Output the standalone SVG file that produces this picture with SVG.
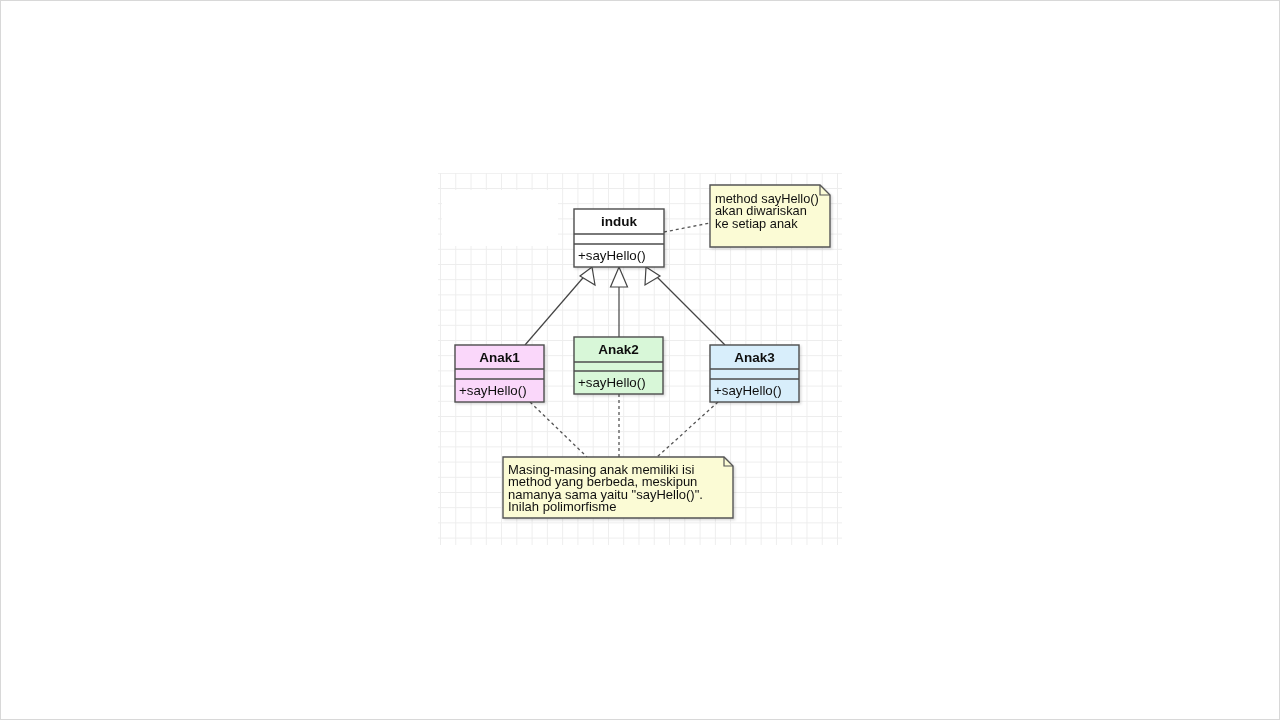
<svg xmlns="http://www.w3.org/2000/svg" width="1280" height="720" viewBox="0 0 1280 720">
<style>
.box{stroke:#4d4d4d;stroke-width:1.4}
.note{fill:#fbfbd5;stroke:#555;stroke-width:1.4}
.t{font-family:"Liberation Sans",Arial,sans-serif;font-size:13.3px;fill:#111}
.n1{font-size:12.8px}
.n2{font-size:13px}
.b{font-weight:bold;text-anchor:middle;font-size:13.5px}
.inh{stroke:#444;stroke-width:1.2;fill:none}
.dot{stroke:#555;stroke-width:1.3;stroke-dasharray:3,3;fill:none}
.head{fill:#fff;stroke:#444;stroke-width:1.2}
</style>
<defs>
<pattern id="grid" patternUnits="userSpaceOnUse" x="440" y="188" width="15.27" height="15.2">
<path d="M0 0.5H15.27M0.5 0V15.2" stroke="#ededed" stroke-width="1" fill="none"/>
</pattern>
<filter id="sh" x="-10%" y="-10%" width="130%" height="130%">
<feDropShadow dx="1.5" dy="1.5" stdDeviation="1.2" flood-color="#000" flood-opacity="0.15"/>
</filter>
</defs>
<rect width="1280" height="720" fill="#fff"/>
<rect x="0.5" y="0.5" width="1279" height="719" fill="none" stroke="#d8d8d8"/>
<rect x="438" y="173" width="404" height="372" fill="url(#grid)"/>
<rect x="442" y="190" width="116" height="56" fill="#fff"/>

<g id="connectors">
<line class="inh" x1="525" y1="345" x2="588" y2="272"/>
<line class="inh" x1="619" y1="337" x2="619" y2="287"/>
<line class="inh" x1="725" y1="345" x2="652" y2="272"/>
<polygon class="head" points="592,267 595,285 580,276"/>
<polygon class="head" points="619,267 627.5,287 610.5,287"/>
<polygon class="head" points="646,267 660,276 645,285"/>
<line class="dot" x1="664" y1="232" x2="710" y2="223"/>
<line class="dot" x1="530" y1="402" x2="587" y2="457"/>
<line class="dot" x1="619" y1="394" x2="619" y2="457"/>
<line class="dot" x1="718" y1="402" x2="657" y2="457"/>
</g>

<g id="induk" filter="url(#sh)">
<rect class="box" x="574" y="209" width="90" height="58" fill="#fff"/>
<line class="box" x1="574" y1="234" x2="664" y2="234"/>
<line class="box" x1="574" y1="244" x2="664" y2="244"/>
<text class="t b" x="619" y="226">induk</text>
<text class="t" x="578" y="260">+sayHello()</text>
</g>

<g id="anak1" filter="url(#sh)">
<rect class="box" x="455" y="345" width="89" height="57" fill="#fad7fa"/>
<line class="box" x1="455" y1="369" x2="544" y2="369"/>
<line class="box" x1="455" y1="379" x2="544" y2="379"/>
<text class="t b" x="499.5" y="362">Anak1</text>
<text class="t" x="459" y="395">+sayHello()</text>
</g>

<g id="anak2" filter="url(#sh)">
<rect class="box" x="574" y="337" width="89" height="57" fill="#d8f7d8"/>
<line class="box" x1="574" y1="362" x2="663" y2="362"/>
<line class="box" x1="574" y1="371" x2="663" y2="371"/>
<text class="t b" x="618.5" y="354">Anak2</text>
<text class="t" x="578" y="387">+sayHello()</text>
</g>

<g id="anak3" filter="url(#sh)">
<rect class="box" x="710" y="345" width="89" height="57" fill="#d8eefb"/>
<line class="box" x1="710" y1="369" x2="799" y2="369"/>
<line class="box" x1="710" y1="379" x2="799" y2="379"/>
<text class="t b" x="754.5" y="362">Anak3</text>
<text class="t" x="714" y="395">+sayHello()</text>
</g>

<g id="note1" filter="url(#sh)">
<path class="note" d="M710 185H820L830 195V247H710Z"/>
<path d="M820 185V195H830" fill="none" stroke="#555" stroke-width="1.2"/>
<text class="t n1" x="715" y="202.5">method sayHello()</text>
<text class="t n1" x="715" y="215">akan diwariskan</text>
<text class="t n1" x="715" y="227.5">ke setiap anak</text>
</g>

<g id="note2" filter="url(#sh)">
<path class="note" d="M503 457H724L733 466V518H503Z"/>
<path d="M724 457V466H733" fill="none" stroke="#555" stroke-width="1.2"/>
<text class="t n2" x="508" y="473.5">Masing-masing anak memiliki isi</text>
<text class="t n2" x="508" y="486">method yang berbeda, meskipun</text>
<text class="t n2" x="508" y="498.5">namanya sama yaitu "sayHello()".</text>
<text class="t n2" x="508" y="511">Inilah polimorfisme</text>
</g>
</svg>
